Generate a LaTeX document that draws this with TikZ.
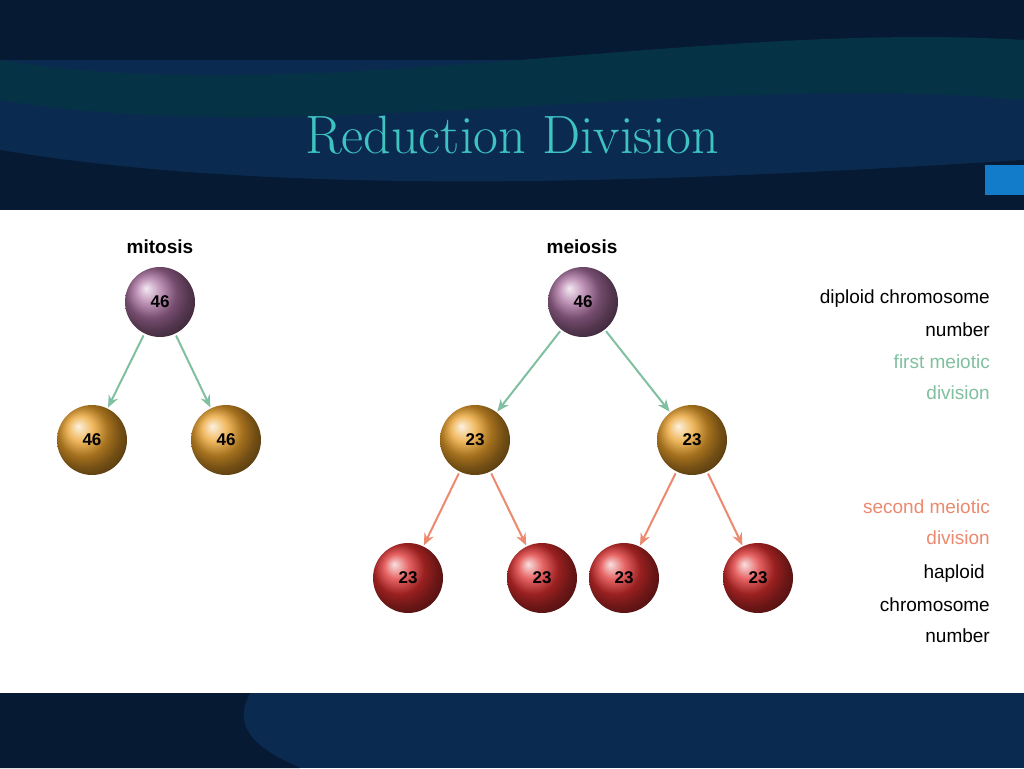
\documentclass[tikz,border=0pt]{standalone}
\usepackage{fontspec}
\setsansfont{Liberation Sans}
\usetikzlibrary{arrows.meta}
\definecolor{navy}{HTML}{0B2A50}
\definecolor{navyd}{HTML}{061A33}
\definecolor{teal}{HTML}{3EC3C0}
\definecolor{cpur}{HTML}{A86E9E}
\definecolor{corg}{HTML}{EAA02A}
\definecolor{cred}{HTML}{DC2E2E}
\definecolor{agreen}{HTML}{80C0A0}
\definecolor{asalm}{HTML}{EC8A70}
\tikzset{
 cell/.style={circle,minimum size=70pt,inner sep=0pt,font=\sffamily\bfseries\fontsize{17}{17}\selectfont},
 pur/.style={cell,ball color=cpur},
 org/.style={cell,ball color=corg},
 red/.style={cell,ball color=cred},
 garr/.style={draw=agreen,line width=2pt,-{Stealth[length=12pt,width=10pt]},shorten <=2pt,shorten >=1pt},
 sarr/.style={draw=asalm,line width=2pt,-{Stealth[length=12pt,width=10pt]},shorten <=2pt,shorten >=1pt},
 lbl/.style={font=\sffamily\fontsize{19}{19}\selectfont,anchor=east,inner sep=0pt},
 head/.style={font=\sffamily\bfseries\fontsize{19}{19}\selectfont}
}
\begin{document}
\begin{tikzpicture}[x=1pt,y=-1pt]
\useasboundingbox (0,0) rectangle (1024,768);
\fill[navy] (0,0) rectangle (1024,210);
\fill[navyd] (0,0) rectangle (1024,60);
\fill[navy!80!cyan!60!black] (0,60) .. controls (300,110) and (700,20) .. (1024,40) -- (1024,100) .. controls (700,70) and (300,150) .. (0,100) -- cycle;
\fill[navyd] (0,150) .. controls (300,200) and (700,180) .. (1024,160) -- (1024,210) -- (0,210) -- cycle;
\fill[cyan!60!blue] (985,165) rectangle (1024,195);
\fill[navy] (0,693) rectangle (1024,768);
\fill[navyd] (0,693) -- (250,693) .. controls (230,730) and (260,750) .. (300,768) -- (0,768) -- cycle;
\fill[white] (0,210) rectangle (1024,693);
\node[text=teal,font=\fontsize{54}{54}\selectfont] (title) at (512,135) {Reduction Division};
\node[head] (hmit) at (160,247) {mitosis};
\node[head] (hmei) at (582,247) {meiosis};
\node[pur] (m0) at (160,302) {46};
\node[org] (m1) at (92,440) {46};
\node[org] (m2) at (226,440) {46};
\node[pur] (e0) at (583,302) {46};
\node[org] (e1) at (475,440) {23};
\node[org] (e2) at (692,440) {23};
\node[red] (r1) at (408,578) {23};
\node[red] (r2) at (542,578) {23};
\node[red] (r3) at (624,578) {23};
\node[red] (r4) at (758,578) {23};
\draw[garr] (m0) -- (m1); \draw[garr] (m0) -- (m2);
\draw[garr] (e0) -- (e1); \draw[garr] (e0) -- (e2);
\draw[sarr] (e1) -- (r1); \draw[sarr] (e1) -- (r2);
\draw[sarr] (e2) -- (r3); \draw[sarr] (e2) -- (r4);
\node[lbl] (t1) at (990,299) {diploid chromosome};
\node[lbl] (t2) at (990,330) {number};
\node[lbl,text=agreen] (t3) at (990,362) {first meiotic};
\node[lbl,text=agreen] (t4) at (990,393) {division};
\node[lbl,text=asalm] (t5) at (990,507) {second meiotic};
\node[lbl,text=asalm] (t6) at (990,538) {division};
\node[lbl] (t7) at (985,574) {haploid};
\node[lbl] (t8) at (990,605) {chromosome};
\node[lbl] (t9) at (990,636) {number};
\end{tikzpicture}
\end{document}
